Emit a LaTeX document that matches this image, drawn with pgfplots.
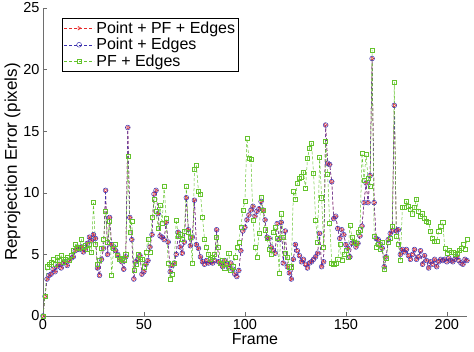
\documentclass[border=0pt]{standalone}
\usepackage{pgfplots}
\pgfplotsset{compat=1.18}
\usepackage{pgfplotstable}
\usepackage{fontspec}
\setmainfont{Liberation Sans}
\definecolor{cred}{RGB}{230,40,40}
\definecolor{cblue}{RGB}{60,50,175}
\definecolor{cgreen}{RGB}{100,195,45}
\definecolor{axgray}{RGB}{110,110,110}
\pgfplotstableread{
x b g
0 0 0
1 1.6 1.6
2 3.0 4.0
3 3.3 4.2
4 3.4 4.4
5 3.8 4.6
6 3.6 4.2
7 4.0 4.8
8 4.2 4.5
9 3.9 4.9
10 4.3 4.4
11 4.4 4.6
12 4.1 4.8
13 4.5 4.5
14 4.7 4.9
15 4.8 5.3
16 5.3 5.8
17 5.6 5.6
18 5.4 5.5
19 5.6 6.2
20 5.2 5.6
21 5.4 5.7
22 5.9 5.4
23 6.4 5.8
24 6.1 5.2
25 6.6 9.2
26 6.3 5.8
27 3.9 4.2
28 3.3 4.5
29 4.6 5.5
30 5.5 6.2
31 10.2 8.5
32 5.0 6.0
33 8.0 7.7
34 5.8 3.3
35 5.6 5.5
36 5.3 5.8
37 5.0 4.9
38 4.7 4.6
39 4.4 4.7
40 3.8 4.5
41 4.8 5.0
42 15.3 13.0
43 8.0 6.8
44 6.2 7.7
45 3.0 3.7
46 4.4 4.2
47 4.6 5.0
48 4.9 4.6
49 3.4 4.6
50 3.6 4.0
51 4.2 5.2
52 4.5 6.2
53 5.6 5.2
54 6.6 8.0
55 9.9 9.5
56 10.2 8.5
57 8.3 7.1
58 6.5 9.0
59 6.4 7.5
60 6.2 10.5
61 7.6 7.9
62 6.0 4.3
63 3.6 3.0
64 4.1 3.4
65 4.3 4.3
66 5.0 7.8
67 6.8 6.5
68 5.6 6.6
69 5.1 6.2
70 6.0 6.9
71 9.6 10.5
72 7.0 6.8
73 5.7 6.4
74 6.4 4.3
75 9.4 11.9
76 5.8 12.2
77 5.5 10.1
78 4.8 9.9
79 4.4 8.0
80 4.2 6.2
81 4.5 5.6
82 4.3 5.0
83 4.4 4.6
84 4.3 4.8
85 4.5 5.0
86 7.0 6.4
87 4.4 5.6
88 4.3 4.3
89 4.0 4.5
90 4.5 3.9
91 4.2 4.3
92 3.9 5.1
93 4.3 3.7
94 3.8 4.0
95 3.4 4.8
96 3.2 5.6
97 3.7 6.0
98 5.3 7.2
99 6.9 8.6
100 7.2 9.3
101 7.8 14.4
102 8.2 12.8
103 8.6 12.7
104 8.9 7.8
105 8.1 5.6
106 8.5 4.8
107 8.7 6.7
108 9.3 9.6
109 8.6 8.6
110 7.8 7.0
111 6.4 6.3
112 6.3 5.4
113 5.6 5.0
114 5.3 6.8
115 5.1 7.2
116 7.5 6.3
117 6.2 3.5
118 7.6 8.3
119 4.3 6.4
120 6.9 5.1
121 4.0 4.8
122 3.5 4.0
123 3.0 4.0
124 4.6 10.1
125 5.8 9.5
126 5.3 10.8
127 4.9 11.2
128 4.4 11.3
129 4.6 11.7
130 4.2 10.4
131 3.9 12.8
132 4.3 13.6
133 4.4 14.0
134 4.6 11.6
135 4.8 7.8
136 5.1 6.0
137 6.7 12.9
138 4.0 9.6
139 4.4 5.6
140 15.5 14.2
141 12.4 11.5
142 12.3 7.5
143 10.9 4.3
144 7.9 4.2
145 8.1 4.3
146 7.1 4.6
147 6.3 5.8
148 7.0 4.5
149 6.6 5.0
150 5.8 5.3
151 5.5 4.8
152 4.8 7.4
153 5.9 6.4
154 6.0 6.0
155 5.6 5.9
156 5.9 6.8
157 6.5 7.0
158 7.3 13.2
159 9.2 11.0
160 10.8 13.1
161 9.2 11.2
162 11.4 10.5
163 20.9 21.6
164 9.2 6.5
165 6.3 5.6
166 6.2 5.8
167 5.8 5.4
168 5.5 6.0
169 4.0 3.8
170 4.8 4.7
171 6.2 6.0
172 6.7 6.3
173 6.9 7.3
174 17.1 19.0
175 6.9 6.5
176 7.0 5.8
177 5.0 4.5
178 5.4 8.8
179 5.2 8.8
180 5.4 9.3
181 4.9 8.9
182 4.6 8.7
183 5.0 8.3
184 5.4 8.8
185 4.6 9.5
186 4.8 8.5
187 5.3 8.1
188 4.2 8.3
189 4.9 7.9
190 4.5 7.7
191 3.9 7.6
192 4.4 6.9
193 4.2 6.3
194 4.6 6.1
195 4.0 6.1
196 4.4 6.9
197 4.6 7.3
198 4.5 7.6
199 4.6 5.5
200 4.4 5.1
201 4.7 5.3
202 4.5 5.2
203 4.4 5.2
204 4.6 5.0
205 4.8 5.1
206 4.5 5.3
207 4.3 5.5
208 4.2 5.8
209 4.6 5.4
210 4.5 6.2
}\datatable
\begin{document}
\begin{tikzpicture}[x=1pt,y=1pt]
\useasboundingbox (-43,-35) rectangle (431,316);
\begin{axis}[
  at={(0,0)}, anchor=south west,
  scale only axis, width=424pt, height=308pt,
  xmin=0, xmax=210, ymin=0, ymax=25,
  axis x line*=bottom, axis y line*=left,
  axis line style={axgray, line width=0.6pt},
  tick style={axgray, line width=0.6pt},
  tick align=inside,
  major tick length=4pt,
  xtick={0,50,100,150,200}, ytick={0,5,10,15,20,25},
  /pgf/number format/assume math mode=true,
  ticklabel style={font=\fontsize{14.5}{15}\selectfont},
  xlabel={Frame}, ylabel={Reprojection Error (pixels)},
  xlabel style={at={(axis description cs:0.5,0)}, anchor=north, yshift=-14pt,
    font=\fontsize{16}{17}\selectfont},
  ylabel style={at={(axis description cs:0,0.5)}, anchor=south, yshift=19pt,
    font=\fontsize{17}{18}\selectfont},
  legend style={at={(0.045,0.968)}, anchor=north west, draw=black, line width=0.6pt,
    font=\fontsize{16}{17}\selectfont, inner sep=1.5pt, row sep=-0.5pt,
    cells={anchor=west}},
  legend cell align=left,
  legend image code/.code={\draw[mark repeat=2,mark phase=2] plot coordinates {(0pt,0pt) (15pt,0pt) (30pt,0pt)};},
  every axis plot/.append style={densely dashed, line width=0.5pt, mark size=2.4pt},
]
\addplot[cred, mark=triangle, mark options={solid, rotate=-90, scale=0.85}] table[x=x,y=b] {\datatable};
\addlegendentry{Point + PF + Edges}
\addplot[cblue, mark=o, mark options={solid}] table[x=x,y=b] {\datatable};
\addlegendentry{Point + Edges}
\addplot[cgreen, mark=square, mark options={solid, scale=0.85}] table[x=x,y=g] {\datatable};
\addlegendentry{PF + Edges}
\end{axis}
\end{tikzpicture}
\end{document}
